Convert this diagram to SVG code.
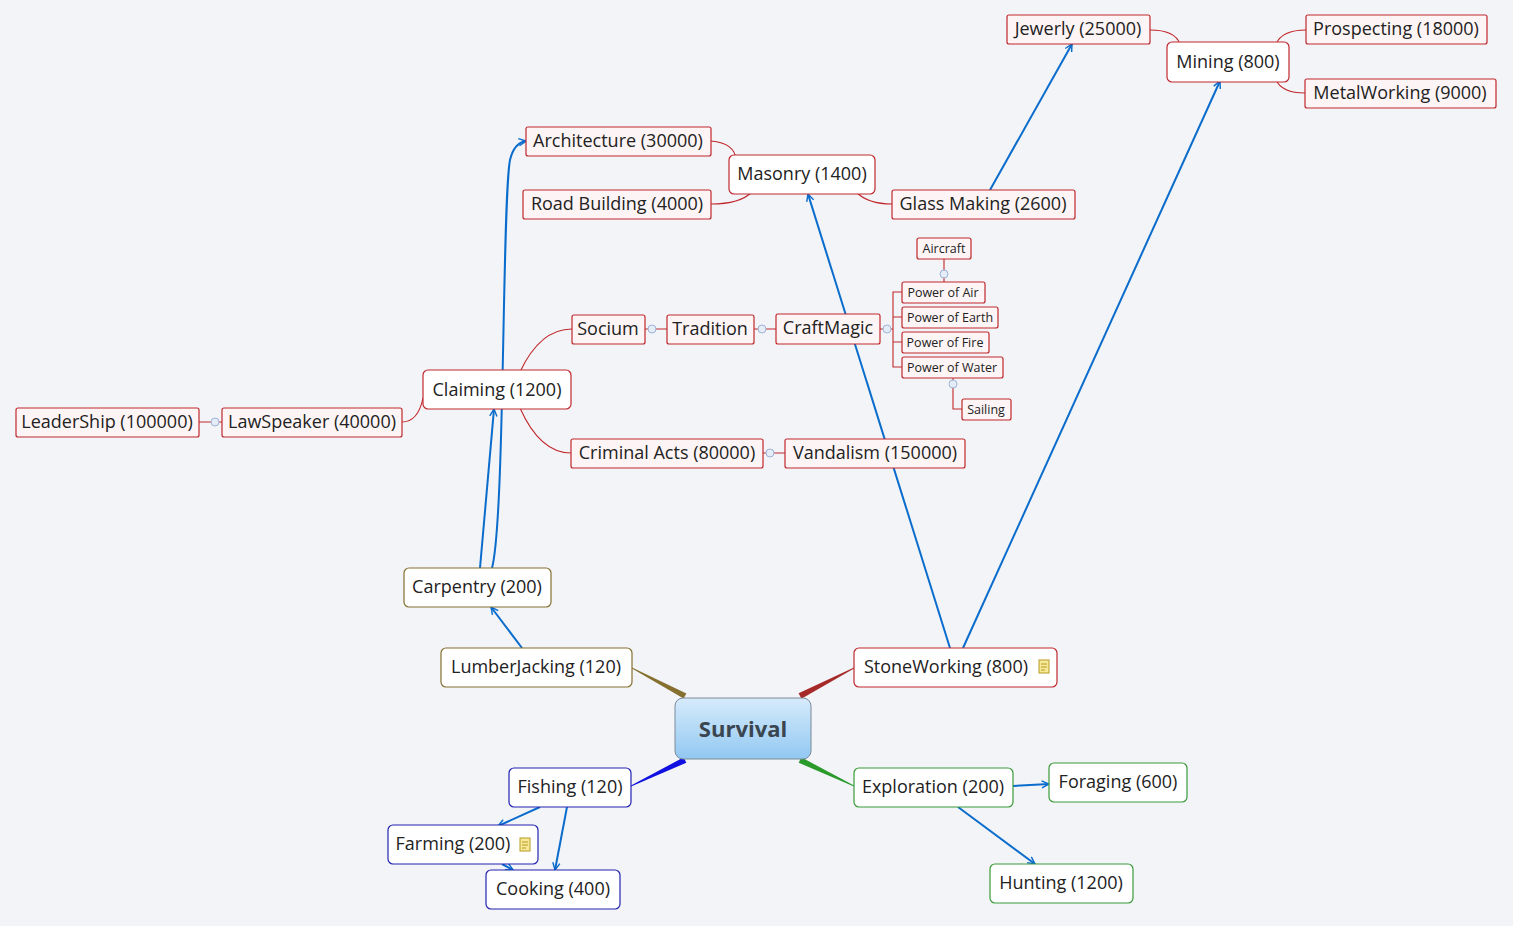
<svg xmlns="http://www.w3.org/2000/svg" width="1513" height="926" viewBox="0 0 1513 926">
<defs>
<linearGradient id="g" x1="0" y1="0" x2="0" y2="1"><stop offset="0" stop-color="#d6ebfb"/><stop offset="1" stop-color="#92c8f2"/></linearGradient>
<marker id="a" viewBox="0 0 10 10" refX="9" refY="5" markerWidth="9" markerHeight="9" orient="auto" markerUnits="userSpaceOnUse"><path d="M1,1 L9,5 L1,9" fill="none" stroke="#0a6ccc" stroke-width="1.6"/></marker>
</defs>
<style>
text{font-family:"Open Sans","Noto Sans","DejaVu Sans",sans-serif;fill:#222;}
.m{font-size:18px}.s{font-size:12.5px}
.r rect{fill:#fff;stroke:#c0282d;stroke-width:1.2}
.rb rect{fill:#fdf5f5;stroke:#c0282d;stroke-width:1.2}
.o rect{fill:#fff;stroke:#857030;stroke-width:1.2}
.b rect{fill:#fff;stroke:#2222b0;stroke-width:1.2}
.gn rect{fill:#fff;stroke:#3a9a3a;stroke-width:1.2}
.t{fill:none;stroke:#c0282d;stroke-width:1.1}
.k{fill:#e4ecf7;stroke:#9fb4d6;stroke-width:1}
.ar{fill:none;stroke:#0a6ccc;stroke-width:2;marker-end:url(#a)}
rect.n{fill:#f7e99a;stroke:#b89a20;stroke-width:1}
.nl{stroke:#b89a20;stroke-width:1}
</style>
<rect width="1513" height="926" fill="#f3f4f7"/>
<g id="connectors">
<polygon points="686.4,693.4 683.6,698.6 632,668.5 632,667.5" fill="#857030"/>
<polygon points="801.4,698.7 798.6,693.3 854,667.5 854,668.5" fill="#a62a2a"/>
<polygon points="686.3,762.7 683.7,757.3 631,785.5 631,786.5" fill="#1010e0"/>
<polygon points="798.7,762.7 801.3,757.3 854,785.5 854,786.5" fill="#2a9a2a"/>
<path class="t" d="M423,398 Q418,422 402,422"/>
<path class="t" d="M520,372 Q540,329 572,329"/>
<path class="t" d="M520,408 Q540,453 571,453"/>
<path class="t" d="M199,422 H222 M645,329 H667 M754,329 H776 M763,453 H785 M880,329 H893"/>
<path class="t" d="M902,292 H893 V367 H902 M893,317 H902 M893,342 H902 M944,259 V282 M953,378 V409 H962"/>
<circle class="k" cx="215" cy="422" r="4"/><circle class="k" cx="652" cy="329" r="4"/><circle class="k" cx="762" cy="329" r="4"/><circle class="k" cx="770" cy="453" r="4"/><circle class="k" cx="887" cy="329" r="4"/><circle class="k" cx="944" cy="274" r="4"/><circle class="k" cx="953" cy="384" r="4"/>
<path class="t" d="M736,160 Q735,143 711,141"/>
<path class="t" d="M752,192 Q740,204 711,204"/>
<path class="t" d="M856,192 Q868,204 892,204"/>
<path class="t" d="M1150,30 Q1175,30 1180,44"/>
<path class="t" d="M1276,44 Q1282,30 1306,30"/>
<path class="t" d="M1276,80 Q1282,93 1305,93"/>
<path class="ar" d="M522,648 L491,607"/>
<path class="ar" d="M480,568 L494,409"/>
<path class="ar" d="M492,568 C505,520 502,200 510,160 Q514,143 526,141"/>
<path class="ar" d="M950,648 L808,194"/>
<path class="ar" d="M963,648 L1220,81"/>
<path class="ar" d="M990,190 L1072,44"/>
<path class="ar" d="M540,807 L498,826"/>
<path class="ar" d="M567,807 L555,870"/>
<path class="ar" d="M502,864 L513,870"/>
<path class="ar" d="M1013,786 L1049,784"/>
<path class="ar" d="M958,807 L1035,864"/>
</g>
<g id="survival"><rect x="675" y="698" width="136" height="61" rx="8" fill="url(#g)" stroke="#7a8a9a"/><text x="743" y="737" text-anchor="middle" style="font-size:22px;font-weight:bold;fill:#3a4550">Survival</text></g>
<g id="lumber" class="o"><rect x="441" y="648" width="191" height="39" rx="5"/><text class="m" x="536" y="673" text-anchor="middle">LumberJacking (120)</text></g>
<g id="carpentry" class="o"><rect x="404" y="568" width="147" height="39" rx="5"/><text class="m" x="477" y="593" text-anchor="middle">Carpentry (200)</text></g>
<g id="stone" class="r"><rect x="854" y="648" width="203" height="39" rx="5"/><text class="m" x="946" y="673" text-anchor="middle">StoneWorking (800)</text><rect class="n" x="1039" y="660" width="10" height="13"/><path class="nl" d="M1041,664 H1047 M1041,667 H1047 M1041,670 H1045"/></g>
<g id="fishing" class="b"><rect x="509" y="768" width="122" height="39" rx="5"/><text class="m" x="570" y="793" text-anchor="middle">Fishing (120)</text></g>
<g id="farming" class="b"><rect x="388" y="825" width="150" height="39" rx="5"/><text class="m" x="453" y="850" text-anchor="middle">Farming (200)</text><rect class="n" x="520" y="838" width="10" height="13"/><path class="nl" d="M522,842 H528 M522,845 H528 M522,848 H526"/></g>
<g id="cooking" class="b"><rect x="486" y="870" width="134" height="39" rx="5"/><text class="m" x="553" y="895" text-anchor="middle">Cooking (400)</text></g>
<g id="exploration" class="gn"><rect x="854" y="768" width="159" height="39" rx="5"/><text class="m" x="933" y="793" text-anchor="middle">Exploration (200)</text></g>
<g id="foraging" class="gn"><rect x="1049" y="763" width="138" height="39" rx="5"/><text class="m" x="1118" y="788" text-anchor="middle">Foraging (600)</text></g>
<g id="hunting" class="gn"><rect x="990" y="864" width="143" height="39" rx="5"/><text class="m" x="1061" y="889" text-anchor="middle">Hunting (1200)</text></g>
<g id="claiming" class="r"><rect x="423" y="370" width="148" height="39" rx="5"/><text class="m" x="497" y="396" text-anchor="middle">Claiming (1200)</text></g>
<g id="lawspeaker" class="rb"><rect x="222" y="408" width="180" height="29" rx="2"/><text class="m" x="312" y="428" text-anchor="middle">LawSpeaker (40000)</text></g>
<g id="leadership" class="rb"><rect x="16" y="408" width="183" height="29" rx="2"/><text class="m" x="107" y="428" text-anchor="middle">LeaderShip (100000)</text></g>
<g id="socium" class="rb"><rect x="572" y="315" width="73" height="29" rx="2"/><text class="m" x="608" y="335" text-anchor="middle">Socium</text></g>
<g id="tradition" class="rb"><rect x="667" y="315" width="87" height="29" rx="2"/><text class="m" x="710" y="335" text-anchor="middle">Tradition</text></g>
<g id="craftmagic" class="rb"><rect x="776" y="314" width="104" height="30" rx="2"/><text class="m" x="828" y="334" text-anchor="middle">CraftMagic</text></g>
<g id="criminal" class="rb"><rect x="571" y="439" width="192" height="29" rx="2"/><text class="m" x="667" y="459" text-anchor="middle">Criminal Acts (80000)</text></g>
<g id="vandalism" class="rb"><rect x="785" y="439" width="180" height="29" rx="2"/><text class="m" x="875" y="459" text-anchor="middle">Vandalism (150000)</text></g>
<g id="aircraft" class="rb"><rect x="917" y="238" width="54" height="21" rx="2"/><text class="s" x="944" y="253" text-anchor="middle">Aircraft</text></g>
<g id="air" class="rb"><rect x="902" y="282" width="83" height="21" rx="2"/><text class="s" x="943" y="297" text-anchor="middle">Power of Air</text></g>
<g id="earth" class="rb"><rect x="902" y="307" width="96" height="21" rx="2"/><text class="s" x="950" y="322" text-anchor="middle">Power of Earth</text></g>
<g id="fire" class="rb"><rect x="902" y="332" width="87" height="21" rx="2"/><text class="s" x="945" y="347" text-anchor="middle">Power of Fire</text></g>
<g id="water" class="rb"><rect x="902" y="357" width="101" height="21" rx="2"/><text class="s" x="952" y="372" text-anchor="middle">Power of Water</text></g>
<g id="sailing" class="rb"><rect x="962" y="399" width="49" height="21" rx="2"/><text class="s" x="986" y="414" text-anchor="middle">Sailing</text></g>
<g id="masonry" class="r"><rect x="729" y="155" width="146" height="39" rx="5"/><text class="m" x="802" y="180" text-anchor="middle">Masonry (1400)</text></g>
<g id="architecture" class="rb"><rect x="526" y="127" width="185" height="29" rx="2"/><text class="m" x="618" y="147" text-anchor="middle">Architecture (30000)</text></g>
<g id="road" class="rb"><rect x="523" y="190" width="188" height="29" rx="2"/><text class="m" x="617" y="210" text-anchor="middle">Road Building (4000)</text></g>
<g id="glass" class="rb"><rect x="892" y="190" width="183" height="29" rx="2"/><text class="m" x="983" y="210" text-anchor="middle">Glass Making (2600)</text></g>
<g id="mining" class="r"><rect x="1167" y="42" width="122" height="40" rx="5"/><text class="m" x="1228" y="68" text-anchor="middle">Mining (800)</text></g>
<g id="jewerly" class="rb"><rect x="1007" y="15" width="143" height="29" rx="2"/><text class="m" x="1078" y="35" text-anchor="middle">Jewerly (25000)</text></g>
<g id="prospecting" class="rb"><rect x="1306" y="15" width="181" height="29" rx="2"/><text class="m" x="1396" y="35" text-anchor="middle">Prospecting (18000)</text></g>
<g id="metalworking" class="rb"><rect x="1305" y="79" width="191" height="29" rx="2"/><text class="m" x="1400" y="99" text-anchor="middle">MetalWorking (9000)</text></g>
</svg>
